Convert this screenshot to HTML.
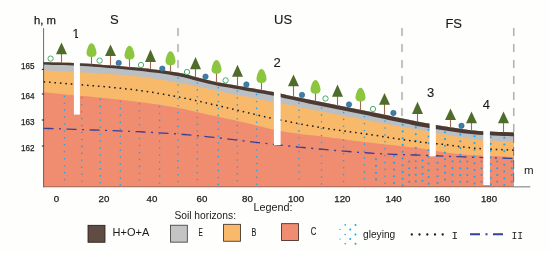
<!DOCTYPE html>
<html><head><meta charset="utf-8"><title>Soil catena</title>
<style>html,body{margin:0;padding:0;background:#fff}svg{display:block}text{fill:#1a1a1a}</style></head>
<body><svg width="550" height="253" viewBox="0 0 550 253">
<rect width="550" height="253" fill="#fefefd"/>
<path d="M43.6,62.2 L48.6,62.3 L53.6,62.4 L58.6,62.5 L63.6,62.7 L68.6,62.8 L73.6,63.0 L78.6,63.2 L83.6,63.4 L88.6,63.8 L93.6,64.1 L98.6,64.5 L103.6,64.9 L108.6,65.2 L113.6,65.6 L118.6,66.0 L123.6,66.4 L128.6,66.9 L133.6,67.3 L138.6,67.8 L143.6,68.3 L148.6,68.8 L153.6,69.4 L158.6,69.9 L163.6,70.5 L168.6,71.2 L173.6,72.0 L178.6,72.8 L183.6,73.7 L188.6,75.0 L193.6,76.5 L198.6,77.8 L203.6,79.1 L208.6,80.3 L213.6,81.4 L218.6,82.4 L223.6,83.3 L228.6,84.2 L233.6,85.0 L238.6,85.9 L243.6,86.8 L248.6,87.7 L253.6,88.6 L258.6,89.5 L263.6,90.3 L268.6,91.2 L273.6,92.1 L278.6,93.2 L283.6,94.3 L288.6,95.4 L293.6,96.5 L298.6,97.5 L303.6,98.6 L308.6,99.6 L313.6,100.6 L318.6,101.5 L323.6,102.5 L328.6,103.5 L333.6,104.4 L338.6,105.4 L343.6,106.4 L348.6,107.4 L353.6,108.4 L358.6,109.4 L363.6,110.4 L368.6,111.4 L373.6,112.4 L378.6,113.5 L383.6,114.6 L388.6,115.6 L393.6,116.7 L398.6,117.7 L403.6,118.7 L408.6,119.8 L413.6,120.8 L418.6,121.7 L423.6,122.7 L428.6,123.6 L433.6,124.5 L438.6,125.4 L443.6,126.2 L448.6,127.0 L453.6,127.8 L458.6,128.5 L463.6,129.3 L468.6,129.9 L473.6,130.5 L478.6,130.9 L483.6,131.2 L488.6,131.5 L493.6,131.7 L498.6,131.9 L503.6,132.1 L508.6,132.3 L514.0,132.5 L514.0,186.6 L43.6,186.6 Z" fill="#f08c70"/>
<path d="M43.6,62.2 L48.6,62.3 L53.6,62.4 L58.6,62.5 L63.6,62.7 L68.6,62.8 L73.6,63.0 L78.6,63.2 L83.6,63.4 L88.6,63.8 L93.6,64.1 L98.6,64.5 L103.6,64.9 L108.6,65.2 L113.6,65.6 L118.6,66.0 L123.6,66.4 L128.6,66.9 L133.6,67.3 L138.6,67.8 L143.6,68.3 L148.6,68.8 L153.6,69.4 L158.6,69.9 L163.6,70.5 L168.6,71.2 L173.6,72.0 L178.6,72.8 L183.6,73.7 L188.6,75.0 L193.6,76.5 L198.6,77.8 L203.6,79.1 L208.6,80.3 L213.6,81.4 L218.6,82.4 L223.6,83.3 L228.6,84.2 L233.6,85.0 L238.6,85.9 L243.6,86.8 L248.6,87.7 L253.6,88.6 L258.6,89.5 L263.6,90.3 L268.6,91.2 L273.6,92.1 L278.6,93.2 L283.6,94.3 L288.6,95.4 L293.6,96.5 L298.6,97.5 L303.6,98.6 L308.6,99.6 L313.6,100.6 L318.6,101.5 L323.6,102.5 L328.6,103.5 L333.6,104.4 L338.6,105.4 L343.6,106.4 L348.6,107.4 L353.6,108.4 L358.6,109.4 L363.6,110.4 L368.6,111.4 L373.6,112.4 L378.6,113.5 L383.6,114.6 L388.6,115.6 L393.6,116.7 L398.6,117.7 L403.6,118.7 L408.6,119.8 L413.6,120.8 L418.6,121.7 L423.6,122.7 L428.6,123.6 L433.6,124.5 L438.6,125.4 L443.6,126.2 L448.6,127.0 L453.6,127.8 L458.6,128.5 L463.6,129.3 L468.6,129.9 L473.6,130.5 L478.6,130.9 L483.6,131.2 L488.6,131.5 L493.6,131.7 L498.6,131.9 L503.6,132.1 L508.6,132.3 L514.0,132.5 L514.0,157.0 L508.6,156.7 L503.6,156.5 L498.6,156.3 L493.6,156.1 L488.6,155.9 L483.6,155.7 L478.6,155.4 L473.6,155.2 L468.6,154.9 L463.6,154.5 L458.6,154.1 L453.6,153.5 L448.6,152.9 L443.6,152.1 L438.6,151.4 L433.6,150.6 L428.6,149.7 L423.6,148.8 L418.6,148.1 L413.6,147.5 L408.6,146.9 L403.6,146.3 L398.6,145.7 L393.6,145.2 L388.6,144.7 L383.6,144.2 L378.6,143.7 L373.6,143.1 L368.6,142.6 L363.6,142.0 L358.6,141.3 L353.6,140.7 L348.6,140.0 L343.6,139.3 L338.6,138.6 L333.6,138.0 L328.6,137.3 L323.6,136.7 L318.6,136.1 L313.6,135.6 L308.6,135.0 L303.6,134.4 L298.6,133.8 L293.6,133.1 L288.6,132.4 L283.6,131.5 L278.6,130.6 L273.6,129.5 L268.6,128.4 L263.6,127.3 L258.6,126.0 L253.6,124.8 L248.6,123.6 L243.6,122.3 L238.6,121.2 L233.6,120.0 L228.6,118.9 L223.6,117.9 L218.6,116.8 L213.6,115.7 L208.6,114.7 L203.6,113.6 L198.6,112.5 L193.6,111.3 L188.6,110.2 L183.6,109.0 L178.6,108.0 L173.6,107.1 L168.6,106.2 L163.6,105.4 L158.6,104.6 L153.6,103.9 L148.6,103.2 L143.6,102.5 L138.6,101.9 L133.6,101.3 L128.6,100.7 L123.6,100.1 L118.6,99.5 L113.6,99.0 L108.6,98.5 L103.6,98.0 L98.6,97.5 L93.6,97.0 L88.6,96.5 L83.6,96.1 L78.6,95.7 L73.6,95.2 L68.6,94.8 L63.6,94.3 L58.6,93.8 L53.6,93.3 L48.6,92.8 L43.6,92.3 Z" fill="#f9b96b"/>
<path d="M43.6,62.2 L48.6,62.3 L53.6,62.4 L58.6,62.5 L63.6,62.7 L68.6,62.8 L73.6,63.0 L78.6,63.2 L83.6,63.4 L88.6,63.8 L93.6,64.1 L98.6,64.5 L103.6,64.9 L108.6,65.2 L113.6,65.6 L118.6,66.0 L123.6,66.4 L128.6,66.9 L133.6,67.3 L138.6,67.8 L143.6,68.3 L148.6,68.8 L153.6,69.4 L158.6,69.9 L163.6,70.5 L168.6,71.2 L173.6,72.0 L178.6,72.8 L183.6,73.7 L188.6,75.0 L193.6,76.5 L198.6,77.8 L203.6,79.1 L208.6,80.3 L213.6,81.4 L218.6,82.4 L223.6,83.3 L228.6,84.2 L233.6,85.0 L238.6,85.9 L243.6,86.8 L248.6,87.7 L253.6,88.6 L258.6,89.5 L263.6,90.3 L268.6,91.2 L273.6,92.1 L278.6,93.2 L283.6,94.3 L288.6,95.4 L293.6,96.5 L298.6,97.5 L303.6,98.6 L308.6,99.6 L313.6,100.6 L318.6,101.5 L323.6,102.5 L328.6,103.5 L333.6,104.4 L338.6,105.4 L343.6,106.4 L348.6,107.4 L353.6,108.4 L358.6,109.4 L363.6,110.4 L368.6,111.4 L373.6,112.4 L378.6,113.5 L383.6,114.6 L388.6,115.6 L393.6,116.7 L398.6,117.7 L403.6,118.7 L408.6,119.8 L413.6,120.8 L418.6,121.7 L423.6,122.7 L428.6,123.6 L433.6,124.5 L438.6,125.4 L443.6,126.2 L448.6,127.0 L453.6,127.8 L458.6,128.5 L463.6,129.3 L468.6,129.9 L473.6,130.5 L478.6,130.9 L483.6,131.2 L488.6,131.5 L493.6,131.7 L498.6,131.9 L503.6,132.1 L508.6,132.3 L514.0,132.5 L514.0,141.5 L508.6,141.3 L503.6,141.1 L498.6,141.0 L493.6,140.8 L488.6,140.6 L483.6,140.3 L478.6,139.9 L473.6,139.3 L468.6,138.6 L463.6,137.8 L458.6,137.0 L453.6,136.1 L448.6,135.1 L443.6,134.1 L438.6,133.2 L433.6,132.3 L428.6,131.4 L423.6,130.6 L418.6,129.8 L413.6,128.9 L408.6,128.0 L403.6,127.1 L398.6,126.2 L393.6,125.2 L388.6,124.3 L383.6,123.4 L378.6,122.4 L373.6,121.5 L368.6,120.5 L363.6,119.6 L358.6,118.6 L353.6,117.6 L348.6,116.7 L343.6,115.7 L338.6,114.7 L333.6,113.7 L328.6,112.7 L323.6,111.7 L318.6,110.7 L313.6,109.7 L308.6,108.7 L303.6,107.7 L298.6,106.8 L293.6,105.8 L288.6,104.8 L283.6,103.9 L278.6,102.9 L273.6,101.9 L268.6,101.0 L263.6,100.0 L258.6,99.0 L253.6,98.0 L248.6,97.1 L243.6,96.1 L238.6,95.2 L233.6,94.2 L228.6,93.2 L223.6,92.2 L218.6,91.1 L213.6,90.0 L208.6,88.9 L203.6,87.8 L198.6,86.7 L193.6,85.7 L188.6,84.6 L183.6,83.7 L178.6,82.7 L173.6,81.8 L168.6,81.0 L163.6,80.1 L158.6,79.3 L153.6,78.5 L148.6,77.7 L143.6,77.0 L138.6,76.4 L133.6,75.9 L128.6,75.5 L123.6,75.1 L118.6,74.7 L113.6,74.3 L108.6,74.0 L103.6,73.7 L98.6,73.3 L93.6,73.0 L88.6,72.7 L83.6,72.4 L78.6,72.1 L73.6,71.8 L68.6,71.5 L63.6,71.3 L58.6,71.0 L53.6,70.7 L48.6,70.4 L43.6,70.0 Z" fill="#b9bfc3"/>
<path d="M43.6,62.2 L48.6,62.3 L53.6,62.4 L58.6,62.5 L63.6,62.7 L68.6,62.8 L73.6,63.0 L78.6,63.2 L83.6,63.4 L88.6,63.8 L93.6,64.1 L98.6,64.5 L103.6,64.9 L108.6,65.2 L113.6,65.6 L118.6,66.0 L123.6,66.4 L128.6,66.9 L133.6,67.3 L138.6,67.8 L143.6,68.3 L148.6,68.8 L153.6,69.4 L158.6,69.9 L163.6,70.5 L168.6,71.2 L173.6,72.0 L178.6,72.8 L183.6,73.7 L188.6,75.0 L193.6,76.5 L198.6,77.8 L203.6,79.1 L208.6,80.3 L213.6,81.4 L218.6,82.4 L223.6,83.3 L228.6,84.2 L233.6,85.0 L238.6,85.9 L243.6,86.8 L248.6,87.7 L253.6,88.6 L258.6,89.5 L263.6,90.3 L268.6,91.2 L273.6,92.1 L278.6,93.2 L283.6,94.3 L288.6,95.4 L293.6,96.5 L298.6,97.5 L303.6,98.6 L308.6,99.6 L313.6,100.6 L318.6,101.5 L323.6,102.5 L328.6,103.5 L333.6,104.4 L338.6,105.4 L343.6,106.4 L348.6,107.4 L353.6,108.4 L358.6,109.4 L363.6,110.4 L368.6,111.4 L373.6,112.4 L378.6,113.5 L383.6,114.6 L388.6,115.6 L393.6,116.7 L398.6,117.7 L403.6,118.7 L408.6,119.8 L413.6,120.8 L418.6,121.7 L423.6,122.7 L428.6,123.6 L433.6,124.5 L438.6,125.4 L443.6,126.2 L448.6,127.0 L453.6,127.8 L458.6,128.5 L463.6,129.3 L468.6,129.9 L473.6,130.5 L478.6,130.9 L483.6,131.2 L488.6,131.5 L493.6,131.7 L498.6,131.9 L503.6,132.1 L508.6,132.3 L514.0,132.5 L514.0,136.3 L508.6,136.1 L503.6,135.9 L498.6,135.7 L493.6,135.5 L488.6,135.3 L483.6,135.0 L478.6,134.7 L473.6,134.3 L468.6,133.8 L463.6,133.2 L458.6,132.6 L453.6,131.8 L448.6,131.1 L443.6,130.3 L438.6,129.6 L433.6,128.8 L428.6,128.0 L423.6,127.1 L418.6,126.2 L413.6,125.2 L408.6,124.1 L403.6,123.1 L398.6,122.0 L393.6,121.0 L388.6,119.9 L383.6,118.8 L378.6,117.7 L373.6,116.7 L368.6,115.6 L363.6,114.6 L358.6,113.6 L353.6,112.5 L348.6,111.5 L343.6,110.5 L338.6,109.5 L333.6,108.5 L328.6,107.5 L323.6,106.4 L318.6,105.4 L313.6,104.4 L308.6,103.4 L303.6,102.3 L298.6,101.2 L293.6,100.1 L288.6,99.0 L283.6,97.9 L278.6,96.7 L273.6,95.7 L268.6,94.7 L263.6,93.8 L258.6,92.9 L253.6,92.0 L248.6,91.2 L243.6,90.2 L238.6,89.3 L233.6,88.5 L228.6,87.6 L223.6,86.8 L218.6,85.9 L213.6,84.8 L208.6,83.7 L203.6,82.5 L198.6,81.3 L193.6,79.9 L188.6,78.5 L183.6,77.2 L178.6,76.2 L173.6,75.4 L168.6,74.6 L163.6,73.8 L158.6,73.1 L153.6,72.5 L148.6,71.9 L143.6,71.3 L138.6,70.7 L133.6,70.2 L128.6,69.7 L123.6,69.2 L118.6,68.7 L113.6,68.3 L108.6,67.9 L103.6,67.5 L98.6,67.1 L93.6,66.7 L88.6,66.3 L83.6,66.0 L78.6,65.7 L73.6,65.5 L68.6,65.3 L63.6,65.1 L58.6,65.0 L53.6,64.9 L48.6,64.8 L43.6,64.6 Z" fill="#4a3a33"/>
<g fill="#1fa5e6"><circle cx="64.5" cy="96.2" r="0.82"/><circle cx="64.5" cy="103.2" r="0.82"/><circle cx="64.5" cy="110.1" r="0.82"/><circle cx="64.5" cy="117.1" r="0.82"/><circle cx="64.5" cy="124.0" r="0.82"/><circle cx="64.5" cy="131.0" r="0.82"/><circle cx="64.5" cy="137.9" r="0.82"/><circle cx="64.5" cy="144.8" r="0.82"/><circle cx="64.5" cy="151.8" r="0.82"/><circle cx="64.5" cy="158.7" r="0.82"/><circle cx="64.5" cy="165.7" r="0.82"/><circle cx="64.5" cy="172.6" r="0.82"/><circle cx="64.5" cy="179.6" r="0.82"/><circle cx="81.8" cy="97.8" r="0.82"/><circle cx="81.8" cy="104.7" r="0.82"/><circle cx="81.8" cy="111.7" r="0.82"/><circle cx="81.8" cy="118.6" r="0.82"/><circle cx="81.8" cy="125.6" r="0.82"/><circle cx="81.8" cy="132.5" r="0.82"/><circle cx="81.8" cy="139.5" r="0.82"/><circle cx="81.8" cy="146.4" r="0.82"/><circle cx="81.8" cy="153.4" r="0.82"/><circle cx="81.8" cy="160.3" r="0.82"/><circle cx="81.8" cy="167.3" r="0.82"/><circle cx="81.8" cy="174.2" r="0.82"/><circle cx="81.8" cy="181.2" r="0.82"/><circle cx="100.3" cy="99.4" r="0.82"/><circle cx="100.3" cy="106.4" r="0.82"/><circle cx="100.3" cy="113.3" r="0.82"/><circle cx="100.3" cy="120.3" r="0.82"/><circle cx="100.3" cy="127.2" r="0.82"/><circle cx="100.3" cy="134.2" r="0.82"/><circle cx="100.3" cy="141.1" r="0.82"/><circle cx="100.3" cy="148.1" r="0.82"/><circle cx="100.3" cy="155.0" r="0.82"/><circle cx="100.3" cy="162.0" r="0.82"/><circle cx="100.3" cy="168.9" r="0.82"/><circle cx="100.3" cy="175.9" r="0.82"/><circle cx="100.3" cy="182.8" r="0.82"/><circle cx="120.3" cy="101.5" r="0.82"/><circle cx="120.3" cy="108.5" r="0.82"/><circle cx="120.3" cy="115.4" r="0.82"/><circle cx="120.3" cy="122.4" r="0.82"/><circle cx="120.3" cy="129.3" r="0.82"/><circle cx="120.3" cy="136.3" r="0.82"/><circle cx="120.3" cy="143.2" r="0.82"/><circle cx="120.3" cy="150.2" r="0.82"/><circle cx="120.3" cy="157.1" r="0.82"/><circle cx="120.3" cy="164.1" r="0.82"/><circle cx="120.3" cy="171.0" r="0.82"/><circle cx="120.3" cy="178.0" r="0.82"/><circle cx="120.3" cy="184.9" r="0.82"/><circle cx="139.5" cy="103.8" r="0.82"/><circle cx="139.5" cy="110.8" r="0.82"/><circle cx="139.5" cy="117.7" r="0.82"/><circle cx="139.5" cy="124.7" r="0.82"/><circle cx="139.5" cy="131.6" r="0.82"/><circle cx="139.5" cy="138.6" r="0.82"/><circle cx="139.5" cy="145.5" r="0.82"/><circle cx="139.5" cy="152.5" r="0.82"/><circle cx="139.5" cy="159.4" r="0.82"/><circle cx="139.5" cy="166.4" r="0.82"/><circle cx="139.5" cy="173.3" r="0.82"/><circle cx="139.5" cy="180.3" r="0.82"/><circle cx="159.6" cy="106.5" r="0.82"/><circle cx="159.6" cy="113.5" r="0.82"/><circle cx="159.6" cy="120.4" r="0.82"/><circle cx="159.6" cy="127.4" r="0.82"/><circle cx="159.6" cy="134.3" r="0.82"/><circle cx="159.6" cy="141.3" r="0.82"/><circle cx="159.6" cy="148.2" r="0.82"/><circle cx="159.6" cy="155.2" r="0.82"/><circle cx="159.6" cy="162.1" r="0.82"/><circle cx="159.6" cy="169.1" r="0.82"/><circle cx="159.6" cy="176.0" r="0.82"/><circle cx="159.6" cy="183.0" r="0.82"/><circle cx="178.0" cy="78.1" r="0.82"/><circle cx="178.0" cy="85.0" r="0.82"/><circle cx="178.0" cy="91.9" r="0.82"/><circle cx="178.0" cy="98.8" r="0.82"/><circle cx="178.0" cy="105.7" r="0.82"/><circle cx="178.0" cy="112.6" r="0.82"/><circle cx="178.0" cy="119.5" r="0.82"/><circle cx="178.0" cy="126.4" r="0.82"/><circle cx="178.0" cy="133.3" r="0.82"/><circle cx="178.0" cy="140.2" r="0.82"/><circle cx="178.0" cy="147.1" r="0.82"/><circle cx="178.0" cy="154.0" r="0.82"/><circle cx="178.0" cy="160.9" r="0.82"/><circle cx="178.0" cy="167.8" r="0.82"/><circle cx="178.0" cy="174.7" r="0.82"/><circle cx="178.0" cy="181.6" r="0.82"/><circle cx="197.3" cy="83.0" r="0.82"/><circle cx="197.3" cy="89.9" r="0.82"/><circle cx="197.3" cy="96.8" r="0.82"/><circle cx="197.3" cy="103.7" r="0.82"/><circle cx="197.3" cy="110.6" r="0.82"/><circle cx="197.3" cy="117.5" r="0.82"/><circle cx="197.3" cy="124.4" r="0.82"/><circle cx="197.3" cy="131.3" r="0.82"/><circle cx="197.3" cy="138.2" r="0.82"/><circle cx="197.3" cy="145.1" r="0.82"/><circle cx="197.3" cy="152.0" r="0.82"/><circle cx="197.3" cy="158.9" r="0.82"/><circle cx="197.3" cy="165.8" r="0.82"/><circle cx="197.3" cy="172.7" r="0.82"/><circle cx="197.3" cy="179.6" r="0.82"/><circle cx="218.3" cy="87.8" r="0.82"/><circle cx="218.3" cy="94.7" r="0.82"/><circle cx="218.3" cy="101.6" r="0.82"/><circle cx="218.3" cy="108.5" r="0.82"/><circle cx="218.3" cy="115.4" r="0.82"/><circle cx="218.3" cy="122.3" r="0.82"/><circle cx="218.3" cy="129.2" r="0.82"/><circle cx="218.3" cy="136.1" r="0.82"/><circle cx="218.3" cy="143.0" r="0.82"/><circle cx="218.3" cy="149.9" r="0.82"/><circle cx="218.3" cy="156.8" r="0.82"/><circle cx="218.3" cy="163.7" r="0.82"/><circle cx="218.3" cy="170.6" r="0.82"/><circle cx="218.3" cy="177.5" r="0.82"/><circle cx="218.3" cy="184.4" r="0.82"/><circle cx="237.3" cy="91.1" r="0.82"/><circle cx="237.3" cy="98.0" r="0.82"/><circle cx="237.3" cy="104.9" r="0.82"/><circle cx="237.3" cy="111.8" r="0.82"/><circle cx="237.3" cy="118.7" r="0.82"/><circle cx="237.3" cy="125.6" r="0.82"/><circle cx="237.3" cy="132.5" r="0.82"/><circle cx="237.3" cy="139.4" r="0.82"/><circle cx="237.3" cy="146.3" r="0.82"/><circle cx="237.3" cy="153.2" r="0.82"/><circle cx="237.3" cy="160.1" r="0.82"/><circle cx="237.3" cy="167.0" r="0.82"/><circle cx="237.3" cy="173.9" r="0.82"/><circle cx="237.3" cy="180.8" r="0.82"/><circle cx="256.6" cy="94.6" r="0.82"/><circle cx="256.6" cy="101.5" r="0.82"/><circle cx="256.6" cy="108.4" r="0.82"/><circle cx="256.6" cy="115.3" r="0.82"/><circle cx="256.6" cy="122.2" r="0.82"/><circle cx="256.6" cy="129.1" r="0.82"/><circle cx="256.6" cy="136.0" r="0.82"/><circle cx="256.6" cy="142.9" r="0.82"/><circle cx="256.6" cy="149.8" r="0.82"/><circle cx="256.6" cy="156.7" r="0.82"/><circle cx="256.6" cy="163.6" r="0.82"/><circle cx="256.6" cy="170.5" r="0.82"/><circle cx="256.6" cy="177.4" r="0.82"/><circle cx="256.6" cy="184.3" r="0.82"/><circle cx="299.0" cy="103.3" r="0.82"/><circle cx="299.0" cy="110.2" r="0.82"/><circle cx="299.0" cy="117.1" r="0.82"/><circle cx="299.0" cy="124.0" r="0.82"/><circle cx="299.0" cy="130.9" r="0.82"/><circle cx="299.0" cy="137.8" r="0.82"/><circle cx="299.0" cy="144.7" r="0.82"/><circle cx="299.0" cy="151.6" r="0.82"/><circle cx="299.0" cy="158.5" r="0.82"/><circle cx="299.0" cy="165.4" r="0.82"/><circle cx="299.0" cy="172.3" r="0.82"/><circle cx="299.0" cy="179.2" r="0.82"/><circle cx="321.5" cy="108.0" r="0.82"/><circle cx="321.5" cy="114.9" r="0.82"/><circle cx="321.5" cy="121.8" r="0.82"/><circle cx="321.5" cy="128.7" r="0.82"/><circle cx="321.5" cy="135.6" r="0.82"/><circle cx="321.5" cy="142.5" r="0.82"/><circle cx="321.5" cy="149.4" r="0.82"/><circle cx="321.5" cy="156.3" r="0.82"/><circle cx="321.5" cy="163.2" r="0.82"/><circle cx="321.5" cy="170.1" r="0.82"/><circle cx="321.5" cy="177.0" r="0.82"/><circle cx="321.5" cy="183.9" r="0.82"/><circle cx="343.6" cy="112.5" r="0.82"/><circle cx="343.6" cy="119.4" r="0.82"/><circle cx="343.6" cy="126.3" r="0.82"/><circle cx="343.6" cy="133.2" r="0.82"/><circle cx="343.6" cy="140.1" r="0.82"/><circle cx="343.6" cy="147.0" r="0.82"/><circle cx="343.6" cy="153.9" r="0.82"/><circle cx="343.6" cy="160.8" r="0.82"/><circle cx="343.6" cy="167.7" r="0.82"/><circle cx="343.6" cy="174.6" r="0.82"/><circle cx="343.6" cy="181.5" r="0.82"/><circle cx="364.4" cy="116.7" r="0.82"/><circle cx="364.4" cy="123.6" r="0.82"/><circle cx="364.4" cy="130.5" r="0.82"/><circle cx="364.4" cy="137.4" r="0.82"/><circle cx="364.4" cy="144.3" r="0.82"/><circle cx="364.4" cy="151.2" r="0.82"/><circle cx="364.4" cy="158.1" r="0.82"/><circle cx="364.4" cy="165.0" r="0.82"/><circle cx="364.4" cy="171.9" r="0.82"/><circle cx="364.4" cy="178.8" r="0.82"/><circle cx="385.0" cy="121.1" r="0.82"/><circle cx="385.0" cy="128.0" r="0.82"/><circle cx="385.0" cy="134.9" r="0.82"/><circle cx="385.0" cy="141.8" r="0.82"/><circle cx="385.0" cy="148.7" r="0.82"/><circle cx="385.0" cy="155.6" r="0.82"/><circle cx="385.0" cy="162.5" r="0.82"/><circle cx="385.0" cy="169.4" r="0.82"/><circle cx="385.0" cy="176.3" r="0.82"/><circle cx="385.0" cy="183.2" r="0.82"/><circle cx="402.7" cy="124.7" r="1.05"/><circle cx="402.7" cy="131.4" r="1.05"/><circle cx="402.7" cy="138.2" r="1.05"/><circle cx="402.7" cy="144.9" r="1.05"/><circle cx="402.7" cy="151.7" r="1.05"/><circle cx="402.7" cy="158.4" r="1.05"/><circle cx="402.7" cy="165.2" r="1.05"/><circle cx="402.7" cy="171.9" r="1.05"/><circle cx="402.7" cy="178.7" r="1.05"/><circle cx="402.7" cy="185.4" r="1.05"/><circle cx="415.8" cy="127.4" r="1.05"/><circle cx="415.8" cy="134.2" r="1.05"/><circle cx="415.8" cy="140.9" r="1.05"/><circle cx="415.8" cy="147.7" r="1.05"/><circle cx="415.8" cy="154.4" r="1.05"/><circle cx="415.8" cy="161.2" r="1.05"/><circle cx="415.8" cy="167.9" r="1.05"/><circle cx="415.8" cy="174.7" r="1.05"/><circle cx="415.8" cy="181.4" r="1.05"/><circle cx="428.6" cy="129.8" r="1.05"/><circle cx="428.6" cy="136.5" r="1.05"/><circle cx="428.6" cy="143.3" r="1.05"/><circle cx="428.6" cy="150.0" r="1.05"/><circle cx="428.6" cy="156.8" r="1.05"/><circle cx="428.6" cy="163.5" r="1.05"/><circle cx="428.6" cy="170.3" r="1.05"/><circle cx="428.6" cy="177.0" r="1.05"/><circle cx="428.6" cy="183.8" r="1.05"/><circle cx="445.0" cy="132.3" r="1.05"/><circle cx="445.0" cy="139.1" r="1.05"/><circle cx="445.0" cy="145.8" r="1.05"/><circle cx="445.0" cy="152.6" r="1.05"/><circle cx="445.0" cy="159.3" r="1.05"/><circle cx="445.0" cy="166.1" r="1.05"/><circle cx="445.0" cy="172.8" r="1.05"/><circle cx="445.0" cy="179.6" r="1.05"/><circle cx="460.3" cy="134.6" r="1.05"/><circle cx="460.3" cy="141.3" r="1.05"/><circle cx="460.3" cy="148.1" r="1.05"/><circle cx="460.3" cy="154.8" r="1.05"/><circle cx="460.3" cy="161.6" r="1.05"/><circle cx="460.3" cy="168.3" r="1.05"/><circle cx="460.3" cy="175.1" r="1.05"/><circle cx="460.3" cy="181.8" r="1.05"/><circle cx="474.5" cy="136.2" r="1.05"/><circle cx="474.5" cy="143.0" r="1.05"/><circle cx="474.5" cy="149.7" r="1.05"/><circle cx="474.5" cy="156.5" r="1.05"/><circle cx="474.5" cy="163.2" r="1.05"/><circle cx="474.5" cy="170.0" r="1.05"/><circle cx="474.5" cy="176.7" r="1.05"/><circle cx="474.5" cy="183.5" r="1.05"/><circle cx="490.6" cy="137.2" r="1.05"/><circle cx="490.6" cy="143.9" r="1.05"/><circle cx="490.6" cy="150.7" r="1.05"/><circle cx="490.6" cy="157.4" r="1.05"/><circle cx="490.6" cy="164.2" r="1.05"/><circle cx="490.6" cy="170.9" r="1.05"/><circle cx="490.6" cy="177.7" r="1.05"/><circle cx="490.6" cy="184.4" r="1.05"/><circle cx="504.3" cy="137.7" r="1.05"/><circle cx="504.3" cy="144.5" r="1.05"/><circle cx="504.3" cy="151.2" r="1.05"/><circle cx="504.3" cy="158.0" r="1.05"/><circle cx="504.3" cy="164.7" r="1.05"/><circle cx="504.3" cy="171.5" r="1.05"/><circle cx="504.3" cy="178.2" r="1.05"/><circle cx="504.3" cy="185.0" r="1.05"/><circle cx="376.0" cy="159.2" r="1.05"/><circle cx="376.0" cy="165.9" r="1.05"/><circle cx="376.0" cy="172.7" r="1.05"/><circle cx="376.0" cy="179.4" r="1.05"/><circle cx="394.0" cy="156.0" r="1.05"/><circle cx="394.0" cy="162.8" r="1.05"/><circle cx="394.0" cy="169.5" r="1.05"/><circle cx="394.0" cy="176.2" r="1.05"/><circle cx="394.0" cy="183.0" r="1.05"/><circle cx="409.2" cy="161.6" r="1.05"/><circle cx="409.2" cy="168.3" r="1.05"/><circle cx="409.2" cy="175.1" r="1.05"/><circle cx="409.2" cy="181.8" r="1.05"/><circle cx="422.5" cy="160.5" r="1.05"/><circle cx="422.5" cy="167.2" r="1.05"/><circle cx="422.5" cy="174.0" r="1.05"/><circle cx="422.5" cy="180.8" r="1.05"/><circle cx="437.5" cy="156.0" r="1.05"/><circle cx="437.5" cy="162.8" r="1.05"/><circle cx="437.5" cy="169.5" r="1.05"/><circle cx="437.5" cy="176.2" r="1.05"/><circle cx="437.5" cy="183.0" r="1.05"/><circle cx="452.5" cy="161.3" r="1.05"/><circle cx="452.5" cy="168.1" r="1.05"/><circle cx="452.5" cy="174.8" r="1.05"/><circle cx="452.5" cy="181.6" r="1.05"/><circle cx="467.3" cy="161.5" r="1.05"/><circle cx="467.3" cy="168.2" r="1.05"/><circle cx="467.3" cy="175.0" r="1.05"/><circle cx="467.3" cy="181.8" r="1.05"/><circle cx="481.5" cy="161.5" r="1.05"/><circle cx="481.5" cy="168.2" r="1.05"/><circle cx="481.5" cy="175.0" r="1.05"/><circle cx="481.5" cy="181.8" r="1.05"/><circle cx="497.2" cy="161.5" r="1.05"/><circle cx="497.2" cy="168.2" r="1.05"/><circle cx="497.2" cy="175.0" r="1.05"/><circle cx="497.2" cy="181.8" r="1.05"/><circle cx="511.8" cy="161.5" r="1.05"/><circle cx="511.8" cy="168.2" r="1.05"/><circle cx="511.8" cy="175.0" r="1.05"/><circle cx="511.8" cy="181.8" r="1.05"/></g>
<path d="M43.6,81.8 L48.6,82.2 L53.6,82.6 L58.6,83.0 L63.6,83.4 L68.6,83.8 L73.6,84.2 L78.6,84.6 L83.6,85.0 L88.6,85.4 L93.6,85.8 L98.6,86.2 L103.6,86.6 L108.6,87.1 L113.6,87.6 L118.6,88.1 L123.6,88.6 L128.6,89.1 L133.6,89.7 L138.6,90.4 L143.6,91.1 L148.6,91.8 L153.6,92.6 L158.6,93.5 L163.6,94.3 L168.6,95.2 L173.6,96.1 L178.6,97.0 L183.6,98.0 L188.6,99.0 L193.6,100.1 L198.6,101.2 L203.6,102.3 L208.6,103.5 L213.6,104.7 L218.6,105.8 L223.6,107.0 L228.6,108.2 L233.6,109.3 L238.6,110.5 L243.6,111.7 L248.6,112.9 L253.6,114.1 L258.6,115.3 L263.6,116.5 L268.6,117.6 L273.6,118.7 L278.6,119.7 L283.6,120.7 L288.6,121.7 L293.6,122.7 L298.6,123.6 L303.6,124.6 L308.6,125.5 L313.6,126.3 L318.6,127.2 L323.6,128.0 L328.6,128.8 L333.6,129.5 L338.6,130.2 L343.6,130.9 L348.6,131.6 L353.6,132.2 L358.6,132.9 L363.6,133.6 L368.6,134.3 L373.6,135.1 L378.6,135.9 L383.6,136.7 L388.6,137.5 L393.6,138.3 L398.6,139.0 L403.6,139.8 L408.6,140.5 L413.6,141.2 L418.6,141.8 L423.6,142.4 L428.6,142.9 L433.6,143.4 L438.6,143.9 L443.6,144.4 L448.6,145.0 L453.6,145.7 L458.6,146.4 L463.6,147.0 L468.6,147.6 L473.6,148.1 L478.6,148.5 L483.6,148.8 L488.6,149.0 L493.6,149.3 L498.6,149.5 L503.6,149.7 L508.6,149.9 L514.0,150.2" fill="none" stroke="#1a1a1a" stroke-width="1.5" stroke-dasharray="1.55 3.9"/>
<path d="M43.6,128.3 L48.6,128.5 L53.6,128.7 L58.6,128.8 L63.6,129.0 L68.6,129.2 L73.6,129.3 L78.6,129.5 L83.6,129.7 L88.6,129.8 L93.6,130.0 L98.6,130.2 L103.6,130.3 L108.6,130.5 L113.6,130.7 L118.6,130.9 L123.6,131.1 L128.6,131.3 L133.6,131.5 L138.6,131.7 L143.6,132.0 L148.6,132.2 L153.6,132.5 L158.6,132.8 L163.6,133.1 L168.6,133.4 L173.6,133.7 L178.6,134.1 L183.6,134.5 L188.6,134.9 L193.6,135.3 L198.6,135.8 L203.6,136.3 L208.6,136.8 L213.6,137.4 L218.6,137.9 L223.6,138.5 L228.6,139.1 L233.6,139.7 L238.6,140.3 L243.6,140.9 L248.6,141.5 L253.6,142.1 L258.6,142.6 L263.6,143.2 L268.6,143.8 L273.6,144.3 L278.6,144.9 L283.6,145.5 L288.6,146.0 L293.6,146.5 L298.6,147.1 L303.6,147.5 L308.6,148.0 L313.6,148.5 L318.6,149.0 L323.6,149.4 L328.6,149.9 L333.6,150.3 L338.6,150.7 L343.6,151.1 L348.6,151.5 L353.6,151.9 L358.6,152.3 L363.6,152.6 L368.6,153.0 L373.6,153.3 L378.6,153.6 L383.6,153.9 L388.6,154.1 L393.6,154.3 L398.6,154.5 L403.6,154.7 L408.6,154.8 L413.6,155.0 L418.6,155.1 L423.6,155.3 L428.6,155.5 L433.6,155.7 L438.6,155.9 L443.6,156.2 L448.6,156.4 L453.6,156.6 L458.6,156.7 L463.6,156.9 L468.6,157.1 L473.6,157.3 L478.6,157.4 L483.6,157.6 L488.6,157.7 L493.6,157.9 L498.6,158.0 L503.6,158.2 L508.6,158.3 L514.0,158.5" fill="none" stroke="#34409a" stroke-width="1.35" stroke-dasharray="10 5.5 2 5.5"/>
<rect x="73.9" y="60.1" width="6.0" height="54.5" fill="#fff"/>
<rect x="273.9" y="89.9" width="6.7" height="55.1" fill="#fff"/>
<rect x="429.6" y="121.4" width="6.2" height="35.0" fill="#fff"/>
<rect x="483.3" y="128.4" width="6.6" height="56.6" fill="#fff"/>
<path d="M513.7,134 V186" stroke="#55506a" stroke-width="0.9" stroke-dasharray="9 4" fill="none" opacity="0.8"/>
<path d="M178,28 V72" stroke="#9c9c9c" stroke-width="1.2" stroke-dasharray="8 8" fill="none"/>
<path d="M402,28 V118" stroke="#9c9c9c" stroke-width="1.2" stroke-dasharray="8 8" fill="none"/>
<path d="M513.8,28 V132" stroke="#9c9c9c" stroke-width="1.2" stroke-dasharray="8 8" fill="none"/>
<path d="M43.6,28.2 V187.3" fill="none" stroke="#3a3a3a" stroke-width="0.75"/>
<path d="M43.3,186.75 H514" fill="none" stroke="#9c5848" stroke-width="1.1"/>
<path d="M514,186.8 H530.3" fill="none" stroke="#9a9a9a" stroke-width="1.4"/>
<path d="M41.8,69.4 H44" stroke="#222" stroke-width="1"/>
<path d="M41.8,94 H44" stroke="#222" stroke-width="1"/>
<path d="M41.8,120 H44" stroke="#222" stroke-width="1"/>
<path d="M41.8,146 H44" stroke="#222" stroke-width="1"/>
<path d="M61.5,53 V63.1" stroke="#9c6d55" stroke-width="1.1"/>
<path d="M61.5,42.4 L67.0,54.3 L56.0,54.3 Z" fill="#506c2a"/>
<path d="M110.5,54.6 V65.9" stroke="#9c6d55" stroke-width="1.1"/>
<path d="M110.5,44.4 L116.0,55.9 L105.0,55.9 Z" fill="#506c2a"/>
<path d="M150.5,60.6 V69.5" stroke="#9c6d55" stroke-width="1.1"/>
<path d="M150.5,49.4 L156.0,61.9 L145.0,61.9 Z" fill="#506c2a"/>
<path d="M195.5,68 V77.5" stroke="#9c6d55" stroke-width="1.1"/>
<path d="M195.5,57.0 L201.0,69.3 L190.0,69.3 Z" fill="#506c2a"/>
<path d="M237.5,75.4 V86.2" stroke="#9c6d55" stroke-width="1.1"/>
<path d="M237.5,64.7 L243.0,76.7 L232.0,76.7 Z" fill="#506c2a"/>
<path d="M293.5,85 V96.9" stroke="#9c6d55" stroke-width="1.1"/>
<path d="M293.5,74.4 L299.0,86.3 L288.0,86.3 Z" fill="#506c2a"/>
<path d="M337.5,95.4 V105.7" stroke="#9c6d55" stroke-width="1.1"/>
<path d="M337.5,84.4 L343.0,96.7 L332.0,96.7 Z" fill="#506c2a"/>
<path d="M384.5,103.4 V115.2" stroke="#9c6d55" stroke-width="1.1"/>
<path d="M384.5,93.0 L390.0,104.7 L379.0,104.7 Z" fill="#506c2a"/>
<path d="M417.5,112.6 V122.0" stroke="#9c6d55" stroke-width="1.1"/>
<path d="M417.5,101.80000000000001 L423.0,113.89999999999999 L412.0,113.89999999999999 Z" fill="#506c2a"/>
<path d="M450.5,118.6 V127.8" stroke="#9c6d55" stroke-width="1.1"/>
<path d="M450.5,108.4 L456.0,119.89999999999999 L445.0,119.89999999999999 Z" fill="#506c2a"/>
<path d="M471.5,122 V130.7" stroke="#9c6d55" stroke-width="1.1"/>
<path d="M471.5,111.4 L477.0,123.3 L466.0,123.3 Z" fill="#506c2a"/>
<path d="M503.5,122 V132.6" stroke="#9c6d55" stroke-width="1.1"/>
<path d="M503.5,111.4 L509.0,123.3 L498.0,123.3 Z" fill="#506c2a"/>
<path d="M91.5,55.5 V64.5" stroke="#9c6d55" stroke-width="1.1"/>
<path d="M91.5,43.2 C94.7,43.2 96.5,51.0 96.5,52.8 C96.5,56.1 94.0,57.1 91.5,57.1 C89.0,57.1 86.5,56.1 86.5,52.8 C86.5,51.0 88.3,43.2 91.5,43.2 Z" fill="#8cc63f"/>
<path d="M129.5,58 V67.5" stroke="#9c6d55" stroke-width="1.1"/>
<path d="M129.5,45.7 C132.7,45.7 134.5,53.5 134.5,55.3 C134.5,58.6 132.0,59.6 129.5,59.6 C127.0,59.6 124.5,58.6 124.5,55.3 C124.5,53.5 126.3,45.7 129.5,45.7 Z" fill="#8cc63f"/>
<path d="M170.5,63.6 V72.0" stroke="#9c6d55" stroke-width="1.1"/>
<path d="M170.5,51.3 C173.7,51.3 175.5,59.1 175.5,60.9 C175.5,64.2 173.0,65.2 170.5,65.2 C168.0,65.2 165.5,64.2 165.5,60.9 C165.5,59.1 167.3,51.3 170.5,51.3 Z" fill="#8cc63f"/>
<path d="M216.5,72.2 V82.5" stroke="#9c6d55" stroke-width="1.1"/>
<path d="M216.5,59.9 C219.7,59.9 221.5,67.7 221.5,69.5 C221.5,72.8 219.0,73.8 216.5,73.8 C214.0,73.8 211.5,72.8 211.5,69.5 C211.5,67.7 213.3,59.9 216.5,59.9 Z" fill="#8cc63f"/>
<path d="M261.5,81.4 V90.4" stroke="#9c6d55" stroke-width="1.1"/>
<path d="M261.5,69.1 C264.7,69.1 266.5,76.9 266.5,78.7 C266.5,82.0 264.0,83.0 261.5,83.0 C259.0,83.0 256.5,82.0 256.5,78.7 C256.5,76.9 258.3,69.1 261.5,69.1 Z" fill="#8cc63f"/>
<path d="M315.5,92.2 V101.5" stroke="#9c6d55" stroke-width="1.1"/>
<path d="M315.5,79.9 C318.7,79.9 320.5,87.7 320.5,89.5 C320.5,92.8 318.0,93.8 315.5,93.8 C313.0,93.8 310.5,92.8 310.5,89.5 C310.5,87.7 312.3,79.9 315.5,79.9 Z" fill="#8cc63f"/>
<path d="M360.5,100 V110.3" stroke="#9c6d55" stroke-width="1.1"/>
<path d="M360.5,87.7 C363.7,87.7 365.5,95.5 365.5,97.3 C365.5,100.6 363.0,101.6 360.5,101.6 C358.0,101.6 355.5,100.6 355.5,97.3 C355.5,95.5 357.3,87.7 360.5,87.7 Z" fill="#8cc63f"/>
<circle cx="50.6" cy="58.6" r="2.65" fill="#fff" stroke="#3aa45c" stroke-width="0.9"/>
<circle cx="99.6" cy="60.6" r="2.65" fill="#fff" stroke="#3aa45c" stroke-width="0.9"/>
<circle cx="141" cy="65" r="2.65" fill="#fff" stroke="#3aa45c" stroke-width="0.9"/>
<circle cx="187" cy="72" r="2.65" fill="#fff" stroke="#3aa45c" stroke-width="0.9"/>
<circle cx="225.6" cy="80.4" r="2.65" fill="#fff" stroke="#3aa45c" stroke-width="0.9"/>
<circle cx="325.5" cy="98.5" r="2.65" fill="#fff" stroke="#3aa45c" stroke-width="0.9"/>
<circle cx="373" cy="109" r="2.65" fill="#fff" stroke="#3aa45c" stroke-width="0.9"/>
<circle cx="118.7" cy="62.9" r="2.7" fill="#3e7ea8" stroke="#30658c" stroke-width="0.6"/>
<circle cx="162.3" cy="68.6" r="2.7" fill="#3e7ea8" stroke="#30658c" stroke-width="0.6"/>
<circle cx="205.5" cy="76.6" r="2.7" fill="#3e7ea8" stroke="#30658c" stroke-width="0.6"/>
<circle cx="246.4" cy="84.5" r="2.7" fill="#3e7ea8" stroke="#30658c" stroke-width="0.6"/>
<circle cx="302" cy="94.9" r="2.7" fill="#3e7ea8" stroke="#30658c" stroke-width="0.6"/>
<circle cx="349" cy="104.5" r="2.7" fill="#3e7ea8" stroke="#30658c" stroke-width="0.6"/>
<circle cx="393.4" cy="113" r="2.7" fill="#3e7ea8" stroke="#30658c" stroke-width="0.6"/>
<circle cx="461.5" cy="125.8" r="2.7" fill="#3e7ea8" stroke="#30658c" stroke-width="0.6"/>
<text x="34" y="23.6" font-size="11" text-anchor="start" font-family="'Liberation Sans', sans-serif" stroke="#1a1a1a" stroke-width="0.25" textLength="22" lengthAdjust="spacingAndGlyphs">h, m</text>
<text x="110" y="23.6" font-size="13" text-anchor="start" font-family="'Liberation Sans', sans-serif" stroke="#1a1a1a" stroke-width="0.15">S</text>
<text x="274" y="23.6" font-size="13" text-anchor="start" font-family="'Liberation Sans', sans-serif" stroke="#1a1a1a" stroke-width="0.15">US</text>
<text x="445.4" y="27.6" font-size="13" text-anchor="start" font-family="'Liberation Sans', sans-serif" stroke="#1a1a1a" stroke-width="0.15">FS</text>
<clipPath id="c1"><path d="M70,26 H84 V36.9 H78.1 V40 H75.2 V36.9 H70 Z"/></clipPath>
<text x="75.8" y="38.2" font-size="13" text-anchor="middle" font-family="'Liberation Sans', sans-serif" stroke="#1a1a1a" stroke-width="0.1" clip-path="url(#c1)">1</text>
<text x="277" y="67" font-size="13" text-anchor="middle" font-family="'Liberation Sans', sans-serif" stroke="#1a1a1a" stroke-width="0.1">2</text>
<text x="430.7" y="96.5" font-size="13" text-anchor="middle" font-family="'Liberation Sans', sans-serif" stroke="#1a1a1a" stroke-width="0.1">3</text>
<text x="486.4" y="109" font-size="13" text-anchor="middle" font-family="'Liberation Sans', sans-serif" stroke="#1a1a1a" stroke-width="0.1">4</text>
<text x="21" y="69.4" font-size="9.8" text-anchor="start" font-family="'Liberation Sans', sans-serif" stroke="#1a1a1a" stroke-width="0.25" textLength="13.6" lengthAdjust="spacingAndGlyphs">165</text>
<text x="21" y="98.5" font-size="9.8" text-anchor="start" font-family="'Liberation Sans', sans-serif" stroke="#1a1a1a" stroke-width="0.25" textLength="13.6" lengthAdjust="spacingAndGlyphs">164</text>
<text x="21" y="124.5" font-size="9.8" text-anchor="start" font-family="'Liberation Sans', sans-serif" stroke="#1a1a1a" stroke-width="0.25" textLength="13.6" lengthAdjust="spacingAndGlyphs">163</text>
<text x="21" y="150.5" font-size="9.8" text-anchor="start" font-family="'Liberation Sans', sans-serif" stroke="#1a1a1a" stroke-width="0.25" textLength="13.6" lengthAdjust="spacingAndGlyphs">162</text>
<text x="56.5" y="201.9" font-size="9.7" text-anchor="middle" font-family="'Liberation Sans', sans-serif" stroke="#1a1a1a" stroke-width="0.25">0</text>
<text x="104" y="201.9" font-size="9.7" text-anchor="middle" font-family="'Liberation Sans', sans-serif" stroke="#1a1a1a" stroke-width="0.25">20</text>
<text x="152" y="201.9" font-size="9.7" text-anchor="middle" font-family="'Liberation Sans', sans-serif" stroke="#1a1a1a" stroke-width="0.25">40</text>
<text x="202" y="201.9" font-size="9.7" text-anchor="middle" font-family="'Liberation Sans', sans-serif" stroke="#1a1a1a" stroke-width="0.25">60</text>
<text x="247.4" y="201.9" font-size="9.7" text-anchor="middle" font-family="'Liberation Sans', sans-serif" stroke="#1a1a1a" stroke-width="0.25">80</text>
<text x="296" y="201.9" font-size="9.7" text-anchor="middle" font-family="'Liberation Sans', sans-serif" stroke="#1a1a1a" stroke-width="0.25">100</text>
<text x="342.4" y="201.9" font-size="9.7" text-anchor="middle" font-family="'Liberation Sans', sans-serif" stroke="#1a1a1a" stroke-width="0.25">120</text>
<text x="393.6" y="201.9" font-size="9.7" text-anchor="middle" font-family="'Liberation Sans', sans-serif" stroke="#1a1a1a" stroke-width="0.25">140</text>
<text x="442" y="201.9" font-size="9.7" text-anchor="middle" font-family="'Liberation Sans', sans-serif" stroke="#1a1a1a" stroke-width="0.25">160</text>
<text x="489" y="201.9" font-size="9.7" text-anchor="middle" font-family="'Liberation Sans', sans-serif" stroke="#1a1a1a" stroke-width="0.25">180</text>
<text x="524" y="174" font-size="11.5" text-anchor="start" font-family="'Liberation Sans', sans-serif" >m</text>
<text x="253.6" y="211" font-size="10.8" text-anchor="start" font-family="'Liberation Sans', sans-serif" >Legend:</text>
<text x="174.4" y="219" font-size="11" text-anchor="start" font-family="'Liberation Sans', sans-serif"  textLength="61.6" lengthAdjust="spacingAndGlyphs">Soil horizons:</text>
<text x="112.6" y="236" font-size="11" text-anchor="start" font-family="'Liberation Sans', sans-serif" >H+O+A</text>
<text x="198.4" y="235.7" font-size="10.2" text-anchor="start" font-family="'Liberation Sans', sans-serif" stroke="#1a1a1a" stroke-width="0.15" textLength="4.2" lengthAdjust="spacingAndGlyphs">E</text>
<text x="251.4" y="235.7" font-size="10.2" text-anchor="start" font-family="'Liberation Sans', sans-serif" stroke="#1a1a1a" stroke-width="0.15" textLength="4.8" lengthAdjust="spacingAndGlyphs">B</text>
<text x="310.8" y="235.3" font-size="10.2" text-anchor="start" font-family="'Liberation Sans', sans-serif" stroke="#1a1a1a" stroke-width="0.15" textLength="5.6" lengthAdjust="spacingAndGlyphs">C</text>
<text x="363" y="237.5" font-size="10.2" text-anchor="start" font-family="'Liberation Sans', sans-serif" >gleying</text>
<text x="451.6" y="238.8" font-size="11" text-anchor="start" font-family="'Liberation Mono', monospace" fill="#3a3a3a">I</text>
<text x="511.5" y="238.8" font-size="11" text-anchor="start" font-family="'Liberation Mono', monospace" fill="#3a3a3a" textLength="11.6" lengthAdjust="spacingAndGlyphs">II</text>
<rect x="88.05" y="225.35" width="16.9" height="16.9" fill="#5f4d43" stroke="#2a1f1b" stroke-width="0.9"/>
<rect x="170.45" y="225.25" width="16.9" height="16.9" fill="#c4c4c4" stroke="#484848" stroke-width="0.9"/>
<rect x="223.54999999999998" y="224.35" width="16.9" height="16.9" fill="#f9b96b" stroke="#4a3a2e" stroke-width="0.9"/>
<rect x="281.55" y="223.64999999999998" width="16.9" height="16.9" fill="#f08c70" stroke="#4a332c" stroke-width="0.9"/>
<g fill="#1fa5e6"><circle cx="345.2" cy="224.9" r="0.8"/><circle cx="355.5" cy="224.9" r="1.0"/><circle cx="340.1" cy="229.4" r="0.7"/><circle cx="350.2" cy="229.4" r="1.0"/><circle cx="345.2" cy="234.5" r="0.8"/><circle cx="355.5" cy="234.5" r="1.0"/><circle cx="340.1" cy="239.1" r="0.7"/><circle cx="350.2" cy="239.1" r="1.0"/><circle cx="345.2" cy="243.8" r="0.8"/><circle cx="355.5" cy="243.8" r="1.0"/></g>
<g fill="#1a1a1a"><circle cx="411.8" cy="234.5" r="1.15"/><circle cx="419.5" cy="234.5" r="1.15"/><circle cx="427.3" cy="234.5" r="1.15"/><circle cx="435" cy="234.5" r="1.15"/><circle cx="442.7" cy="234.5" r="1.15"/></g>
<path d="M470,234.3 H480 M485.5,234.3 H487.5 M493,234.3 H503" stroke="#34409a" stroke-width="1.9" fill="none"/>
</svg></body></html>
